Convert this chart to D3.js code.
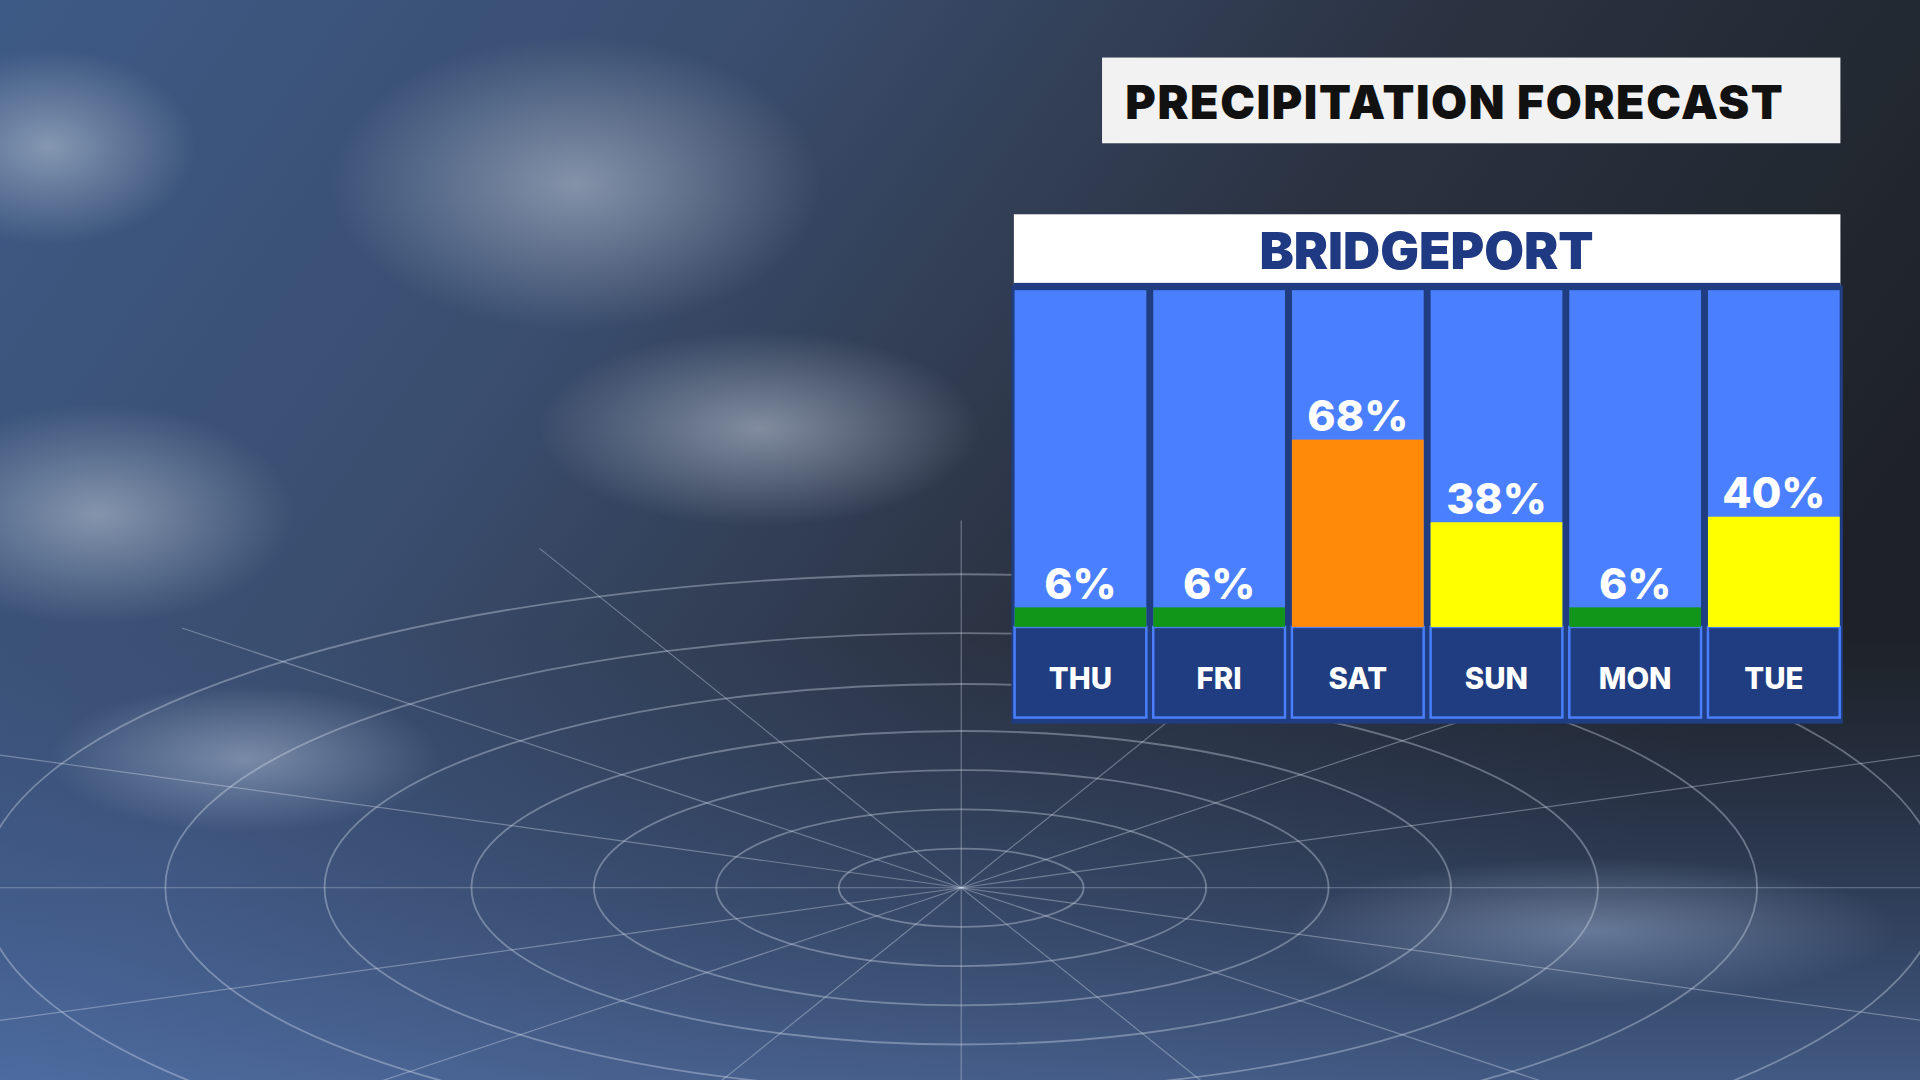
<!DOCTYPE html>
<html><head><meta charset="utf-8">
<script src="https://cdn.jsdelivr.net/npm/d3@7"></script>
<style>html,body{margin:0;padding:0;overflow:hidden;background:#1c2536}</style>
</head><body>
<svg id="c" width="1920" height="1080" viewBox="0 0 1568 882" preserveAspectRatio="none"></svg>
<script>
const title = "PRECIPITATION FORECAST";
const city = "BRIDGEPORT";
const days = ["THU","FRI","SAT","SUN","MON","TUE"];
const values = [6,6,68,38,6,40];
const colors = ["#12961a","#12961a","#ff8a0a","#ffff00","#12961a","#ffff00"];

const svg = d3.select("#c");
const defs = svg.append("defs");
const bg = defs.append("linearGradient").attr("id","bg").attr("x1",0).attr("y1",0).attr("x2",1).attr("y2",0.4);
[["0%","#3d5a86"],["35%","#3a4d6e"],["65%","#2b3342"],["100%","#1e2228"]].forEach(s=>bg.append("stop").attr("offset",s[0]).attr("stop-color",s[1]));
svg.append("rect").attr("width",1568).attr("height",882).attr("fill","url(#bg)");
const cl = defs.append("radialGradient").attr("id","cl");
cl.append("stop").attr("offset","0%").attr("stop-color","#cdd6e2").attr("stop-opacity",0.5);
cl.append("stop").attr("offset","100%").attr("stop-color","#cdd6e2").attr("stop-opacity",0);
[[470,150,200,120],[80,420,160,90],[620,350,180,80],[40,120,120,80],[1300,760,250,60],[200,620,160,60]].forEach(d=>
  svg.append("ellipse").attr("cx",d[0]).attr("cy",d[1]).attr("rx",d[2]).attr("ry",d[3]).attr("fill","url(#cl)"));
const bt = defs.append("linearGradient").attr("id","bt").attr("x1",0).attr("y1",0).attr("x2",0).attr("y2",1);
bt.append("stop").attr("offset","0%").attr("stop-color","#3e5f9e").attr("stop-opacity",0);
bt.append("stop").attr("offset","100%").attr("stop-color","#5a7fc0").attr("stop-opacity",0.6);
svg.append("rect").attr("y",520).attr("width",1568).attr("height",362).attr("fill","url(#bt)");
// radar
const g = svg.append("g").attr("stroke","#dfe8f5").attr("fill","none").attr("stroke-opacity",0.35);
[100,200,300,400,520,650,800].forEach(r=>g.append("ellipse").attr("cx",785).attr("cy",725).attr("rx",r).attr("ry",r*0.32).attr("stroke-width",1.5));
d3.range(0,360,22.5).forEach(a=>{const t=a*Math.PI/180;g.append("line").attr("x1",785).attr("y1",725).attr("x2",785+900*Math.cos(t)).attr("y2",725+300*Math.sin(t));});

// title
svg.append("rect").attr("x",900).attr("y",47).attr("width",603).attr("height",70).attr("fill","#f2f2f2");
svg.append("text").attr("x",919).attr("y",97).text(title).attr("font-family","Inter, Roboto, sans-serif").attr("font-weight",900).attr("font-size",38).attr("letter-spacing",1.3).attr("fill","#111");

// panel
svg.append("rect").attr("x",826).attr("y",233).attr("width",679).attr("height",358).attr("fill","#1f3d80");
svg.append("rect").attr("x",828).attr("y",175).attr("width",675).attr("height",58).attr("fill","#ffffff");
svg.append("rect").attr("x",828).attr("y",231).attr("width",675).attr("height",4).attr("fill","#1f3d80");
svg.append("text").attr("x",1165).attr("y",220).attr("text-anchor","middle").text(city).attr("font-family","Inter, Roboto, sans-serif").attr("font-weight",900).attr("font-size",42).attr("fill","#1f3a82");

const x = d3.scaleBand().domain(days).range([828,1503]).paddingInner(0.05).paddingOuter(0.005);
const y = d3.scaleLinear().domain([0,100]).range([512,287]);
const col = svg.selectAll(".col").data(days).join("g");
col.append("rect").attr("x",d=>x(d)).attr("y",237).attr("width",x.bandwidth()).attr("height",275).attr("fill","#4a80ff");
col.append("rect").attr("x",d=>x(d)).attr("y",512).attr("width",x.bandwidth()).attr("height",74).attr("fill","#1f3d80").attr("stroke","#4a80ff").attr("stroke-width",2);
col.append("rect").attr("x",d=>x(d)).attr("y",(d,i)=>Math.min(y(values[i]),496)).attr("width",x.bandwidth())
  .attr("height",(d,i)=>512-Math.min(y(values[i]),496)).attr("fill",(d,i)=>colors[i]);
col.append("text").attr("x",d=>x(d)+x.bandwidth()/2).attr("y",(d,i)=>Math.min(y(values[i]),496)-7).attr("text-anchor","middle")
  .text((d,i)=>values[i]+"%").attr("font-family","Inter, Roboto, sans-serif").attr("font-weight",800).attr("font-size",35).attr("fill","#fff");
col.append("text").attr("x",d=>x(d)+x.bandwidth()/2).attr("y",563).attr("text-anchor","middle")
  .text(d=>d).attr("font-family","Inter, Roboto, sans-serif").attr("font-weight",800).attr("font-size",24).attr("fill","#fff");
</script>
</body></html>
